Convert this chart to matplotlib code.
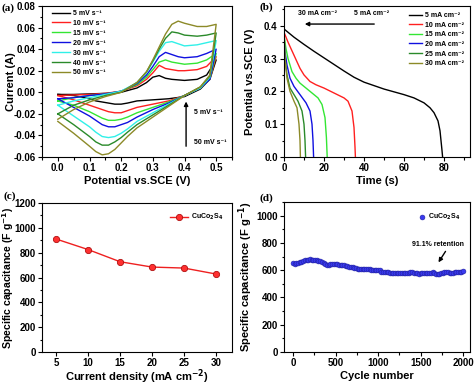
import numpy as np
import matplotlib
matplotlib.use('Agg')
import matplotlib.pyplot as plt
from matplotlib.ticker import MultipleLocator

plt.rcParams['font.family'] = ['Liberation Sans', 'DejaVu Sans']
plt.rcParams['font.weight'] = 'bold'
plt.rcParams['axes.labelweight'] = 'bold'
plt.rcParams['mathtext.default'] = 'bf'

# ---- (a) CV curves ----
scan_labels = ['5 mV s⁻¹', '10 mV s⁻¹', '15 mV s⁻¹', '20 mV s⁻¹',
               '30 mV s⁻¹', '40 mV s⁻¹', '50 mV s⁻¹']
cv_colors = ['black', '#ff2020', '#33e633', '#1010e0', '#30f0e8', '#2a8a2a', '#8c8a28']
cv_x_up = [0.0, 0.05, 0.10, 0.15, 0.20, 0.25, 0.28, 0.30, 0.32, 0.34, 0.36, 0.38, 0.40, 0.44, 0.47, 0.50]
cv_up = [
    [-0.002, -0.002, -0.0015, -0.001, 0.000, 0.004, 0.009, 0.014, 0.0155, 0.013, 0.012, 0.0115, 0.011, 0.012, 0.016, 0.030],
    [-0.003, -0.0025, -0.002, -0.001, 0.001, 0.006, 0.012, 0.018, 0.025, 0.022, 0.021, 0.020, 0.020, 0.021, 0.024, 0.033],
    [-0.008, -0.005, -0.003, -0.0015, 0.001, 0.007, 0.014, 0.021, 0.028, 0.030, 0.028, 0.027, 0.026, 0.027, 0.030, 0.036],
    [-0.006, -0.005, -0.003, -0.0015, 0.001, 0.008, 0.016, 0.024, 0.033, 0.037, 0.035, 0.033, 0.032, 0.033, 0.036, 0.040],
    [-0.012, -0.008, -0.005, -0.002, 0.001, 0.009, 0.018, 0.028, 0.038, 0.046, 0.047, 0.045, 0.043, 0.044, 0.046, 0.048],
    [-0.020, -0.012, -0.007, -0.003, 0.000, 0.009, 0.019, 0.029, 0.040, 0.050, 0.056, 0.055, 0.053, 0.052, 0.053, 0.055],
    [-0.025, -0.016, -0.009, -0.004, 0.000, 0.009, 0.019, 0.030, 0.042, 0.054, 0.063, 0.066, 0.064, 0.061, 0.061, 0.063],
]
cv_x_dn = [0.50, 0.48, 0.45, 0.40, 0.35, 0.30, 0.25, 0.22, 0.20, 0.18, 0.16, 0.14, 0.12, 0.10, 0.05, 0.0]
cv_dn = [
    [0.030, 0.012, 0.003, -0.004, -0.006, -0.007, -0.008, -0.010, -0.011, -0.011, -0.010, -0.009, -0.008, -0.006, -0.003, -0.002],
    [0.033, 0.012, 0.004, -0.003, -0.008, -0.011, -0.014, -0.017, -0.019, -0.019, -0.018, -0.016, -0.014, -0.012, -0.007, -0.003],
    [0.036, 0.012, 0.004, -0.003, -0.009, -0.014, -0.019, -0.023, -0.025, -0.026, -0.026, -0.024, -0.021, -0.018, -0.012, -0.008],
    [0.040, 0.012, 0.004, -0.003, -0.010, -0.016, -0.023, -0.028, -0.030, -0.032, -0.032, -0.030, -0.026, -0.022, -0.014, -0.006],
    [0.048, 0.014, 0.004, -0.003, -0.011, -0.019, -0.027, -0.034, -0.038, -0.041, -0.042, -0.041, -0.037, -0.032, -0.022, -0.012],
    [0.055, 0.015, 0.005, -0.003, -0.012, -0.021, -0.030, -0.037, -0.042, -0.046, -0.049, -0.049, -0.046, -0.041, -0.030, -0.020],
    [0.063, 0.016, 0.005, -0.003, -0.013, -0.023, -0.033, -0.041, -0.047, -0.053, -0.057, -0.058, -0.055, -0.050, -0.038, -0.027],
]

# ---- (b) GCD curves ----
gcd_labels = ['5 mA cm⁻²', '10 mA cm⁻²', '15 mA cm⁻²', '20 mA cm⁻²',
              '25 mA cm⁻²', '30 mA cm⁻²']
gcd_colors = ['black', '#ff2020', '#33e633', '#1010e0', '#2a8a2a', '#8c8a28']
gcd_t = [
    [0, 5, 10, 15, 20, 25, 30, 35, 40, 50, 60, 65, 70, 73, 75, 77, 78, 79, 79.3],
    [0, 2, 5, 8, 10, 13, 16, 20, 25, 30, 32, 34, 35, 35.5, 35.7],
    [0, 1, 2, 4, 6, 8, 11, 14, 17, 19, 20.5, 21.2, 21.6],
    [0, 0.5, 1.5, 3, 5, 8, 11, 13, 14, 14.5, 14.8],
    [0, 0.5, 1.5, 3, 5, 7, 9, 10, 10.5, 10.8],
    [0, 0.5, 1.5, 3, 5, 6.5, 7.5, 8, 8.2],
]
gcd_v = [
    [0.39, 0.365, 0.343, 0.322, 0.302, 0.282, 0.262, 0.243, 0.228, 0.207, 0.19, 0.18, 0.165, 0.15, 0.135, 0.11, 0.08, 0.02, 0.0],
    [0.38, 0.35, 0.31, 0.27, 0.25, 0.23, 0.22, 0.21, 0.195, 0.18, 0.17, 0.14, 0.09, 0.03, 0.0],
    [0.37, 0.33, 0.30, 0.26, 0.24, 0.225, 0.21, 0.195, 0.18, 0.16, 0.12, 0.06, 0.0],
    [0.36, 0.32, 0.28, 0.24, 0.215, 0.19, 0.165, 0.14, 0.10, 0.05, 0.0],
    [0.35, 0.30, 0.25, 0.21, 0.19, 0.17, 0.14, 0.10, 0.05, 0.0],
    [0.40, 0.30, 0.24, 0.20, 0.17, 0.15, 0.10, 0.05, 0.0],
]

# ---- (c) rate capability ----
current_density = [5, 10, 15, 20, 25, 30]
capacitance = [910, 825, 727, 684, 676, 628]

# ---- (d) cycling ----
cycles = list(range(0, 2001, 20))
cycle_cap = [650, 648, 652, 655, 660, 663, 668, 672, 676, 678, 680,
             677, 675, 678, 674, 670, 664, 658, 650, 642, 638,
             640, 642, 645, 648, 646, 643, 640, 638, 635, 636,
             634, 630, 627, 624, 620, 617, 614, 611, 610, 609,
             608, 607, 607, 606, 606, 605, 605, 605, 604, 604,
             603, 590, 588, 587, 586, 585, 583, 580, 578, 578,
             582, 579, 577, 578, 580, 583, 580, 578, 584, 588,
             582, 578, 576, 575, 576, 577, 579, 581, 578, 576,
             580, 584, 578, 574, 572, 575, 578, 582, 584, 586,
             584, 582, 576, 580, 585, 588, 584, 586, 590, 592]

W, H = 474, 386
fig = plt.figure(figsize=(W / 100, H / 100), dpi=100)


def box(l, r, t, b):
    return [l / W, (H - b) / H, (r - l) / W, (b - t) / H]


def style(ax, ylab_x):
    ax.tick_params(which='both', direction='out', labelsize=7, width=0.8, pad=1.5)
    ax.tick_params(which='major', length=3)
    ax.tick_params(which='minor', length=1.8)
    for s in ax.spines.values():
        s.set_linewidth(0.8)
    # ylab_x = right edge of the rotated y label, in pixels
    pos = ax.get_position()
    ax.yaxis.set_label_coords(ylab_x / W, pos.y0 + pos.height / 2, transform=fig.transFigure)


lab_fs = 8
leg_fs = 5.0

ax = fig.add_axes(box(42, 232, 6, 157))
for i in range(len(scan_labels)):
    xs = cv_x_up + cv_x_dn
    ys = cv_up[i] + cv_dn[i]
    ax.plot(xs, ys, color=cv_colors[i], lw=1.0, label=scan_labels[i])
ax.set_xlim(-0.05, 0.55)
ax.set_ylim(-0.06, 0.08)
ax.xaxis.set_major_locator(MultipleLocator(0.1))
ax.xaxis.set_minor_locator(MultipleLocator(0.05))
ax.yaxis.set_major_locator(MultipleLocator(0.02))
ax.yaxis.set_minor_locator(MultipleLocator(0.01))
ax.yaxis.set_major_formatter(matplotlib.ticker.FormatStrFormatter('%.2f'))
ax.set_xlabel('Potential vs.SCE (V)', fontsize=lab_fs, labelpad=2)
ax.set_ylabel('Current (A)', fontsize=lab_fs)
ax.legend(loc='upper left', bbox_to_anchor=(10 / 190, 1 - 4 / 151), frameon=False,
          fontsize=leg_fs, handlelength=2.6, labelspacing=0.42, borderpad=0,
          borderaxespad=0, handletextpad=0.4)
ax.annotate('', xy=(0.405, -0.006), xytext=(0.405, -0.0526),
            arrowprops=dict(arrowstyle='-|>', color='black', lw=1.0, mutation_scale=6))
ax.text(0.43, -0.0192, '5 mV s⁻¹', fontsize=leg_fs, va='center')
ax.text(0.43, -0.047, '50 mV s⁻¹', fontsize=leg_fs, va='center')
style(ax, 16)
fig.text(2 / W, 1 - 8 / H, '(a)', fontsize=8, family='Liberation Serif', weight='bold', va='center')

ax = fig.add_axes(box(284, 470, 6, 157))
for i in range(len(gcd_labels)):
    ax.plot(gcd_t[i], gcd_v[i], color=gcd_colors[i], lw=1.0, label=gcd_labels[i])
ax.set_xlim(0, 93)
ax.set_ylim(0, 0.46)
ax.xaxis.set_major_locator(MultipleLocator(20))
ax.xaxis.set_minor_locator(MultipleLocator(10))
ax.yaxis.set_major_locator(MultipleLocator(0.1))
ax.yaxis.set_minor_locator(MultipleLocator(0.05))
ax.set_xlabel('Time (s)', fontsize=lab_fs, labelpad=2)
ax.set_ylabel('Potential vs.SCE (V)', fontsize=lab_fs)
ax.legend(loc='upper right', bbox_to_anchor=(1 - 6 / 186, 1 - 6 / 151), frameon=False,
          fontsize=leg_fs, handlelength=1.9, labelspacing=0.38, borderpad=0,
          borderaxespad=0, handletextpad=0.4)
ax.annotate('', xy=(9, 0.405), xytext=(46.5, 0.405),
            arrowprops=dict(arrowstyle='-|>', color='black', lw=1.0, mutation_scale=6))
ax.text(7, 0.436, '30 mA cm⁻²', fontsize=leg_fs, va='center')
ax.text(35, 0.436, '5 mA cm⁻²', fontsize=leg_fs, va='center')
style(ax, 255)
fig.text(260 / W, 1 - 7 / H, '(b)', fontsize=8, family='Liberation Serif', weight='bold', va='center')

ax = fig.add_axes(box(42, 232, 203, 352))
ax.plot(current_density, capacitance, color='#ee2020', lw=1.0, marker='o', ms=4.5,
        mfc='#ff3030', mec='#b01010', mew=0.6, label='CuCo$_2$S$_4$')
ax.set_xlim(2.8, 32.5)
ax.set_ylim(0, 1200)
ax.xaxis.set_major_locator(MultipleLocator(5))
ax.yaxis.set_major_locator(MultipleLocator(200))
ax.yaxis.set_minor_locator(MultipleLocator(100))
ax.set_xlabel('Current density (mA cm$^{-2}$)', fontsize=lab_fs, labelpad=-0.5)
ax.set_ylabel('Specific capacitance (F g$^{-1}$)', fontsize=7.6)
ax.legend(loc='upper right', bbox_to_anchor=(1 - 9 / 190, 1 - 9 / 149), frameon=False,
          fontsize=leg_fs, handlelength=2.6, borderpad=0, borderaxespad=0, handletextpad=0.4)
style(ax, 16.5)
fig.text(3 / W, 1 - 196 / H, '(c)', fontsize=8, family='Liberation Serif', weight='bold', va='center')

ax = fig.add_axes(box(284, 470, 202, 352))
ax.plot(cycles, cycle_cap, ls='none', marker='o', ms=3.5, mfc='#3a3af0', mec='#2020a0',
        mew=0.4, label='CuCo$_2$S$_4$')
ax.set_xlim(-105, 2080)
ax.set_ylim(0, 1100)
ax.xaxis.set_major_locator(MultipleLocator(500))
ax.xaxis.set_minor_locator(MultipleLocator(250))
ax.yaxis.set_major_locator(MultipleLocator(200))
ax.yaxis.set_minor_locator(MultipleLocator(100))
ax.set_xlabel('Cycle number', fontsize=lab_fs, labelpad=2)
ax.set_ylabel('Specific capacitance (F g$^{-1}$)', fontsize=lab_fs)
ax.legend(loc='upper right', bbox_to_anchor=(1 - 10 / 186, 1 - 10 / 150), frameon=False,
          fontsize=leg_fs, handlelength=0.8, borderpad=0, borderaxespad=0, handletextpad=0.5)
ax.annotate('', xy=(1692, 640), xytext=(1810, 755),
            arrowprops=dict(arrowstyle='-|>', color='black', lw=1.0, mutation_scale=6))
ax.text(1399, 791, '91.1% retention', fontsize=leg_fs, va='center')
style(ax, 255)
fig.text(260 / W, 1 - 198 / H, '(d)', fontsize=8, family='Liberation Serif', weight='bold', va='center')

fig.savefig('out.png', dpi=100)
